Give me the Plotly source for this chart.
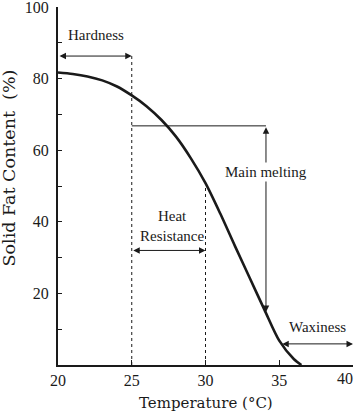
import plotly.graph_objects as go
import numpy as np

# Melting curve (Temperature °C vs Solid Fat Content %)
temps = [20, 21, 22, 23, 24, 25, 26, 27, 28, 29, 30, 31, 32, 33, 34, 35, 36, 36.5]
sfc = [81.7, 81.3, 80.6, 79.5, 77.8, 75.3, 72.3, 68.5, 63.8, 57.8, 50.8, 42.3, 33.2, 24.3, 15.4, 6.8, 1.6, 0]

x_ticks = [20, 25, 30, 35, 40]
y_ticks = [20, 40, 60, 80, 100]

# Region annotations
hardness_range = [20, 25]
hardness_level = 86.3
heat_range = [25, 30]
heat_level = 32
melt_x = 34.1
melt_top = 66.8
melt_bottom = 14.8
melt_start = 25
wax_range = [35.1, 40]
wax_level = 5.9

FONT = "Liberation Serif"
INK = "#1a1a1a"

fig = go.Figure()
fig.add_trace(go.Scatter(x=temps, y=sfc, mode="lines",
                         line=dict(color=INK, width=2.6, shape="spline", smoothing=0.8),
                         hoverinfo="skip", showlegend=False, cliponaxis=False))

shapes = []
# dashed verticals
shapes.append(dict(type="line", xref="x", yref="y", x0=hardness_range[1], x1=hardness_range[1],
                   y0=0, y1=hardness_level, line=dict(color=INK, width=1, dash="dot")))
heat_top = float(np.interp(heat_range[1], temps, sfc))
shapes.append(dict(type="line", xref="x", yref="y", x0=heat_range[1], x1=heat_range[1],
                   y0=0, y1=heat_top, line=dict(color=INK, width=1, dash="dot")))
# main melting horizontal
shapes.append(dict(type="line", xref="x", yref="y", x0=melt_start, x1=melt_x,
                   y0=melt_top, y1=melt_top, line=dict(color=INK, width=1)))

def double_arrow(x0, y0, x1, y1):
    return dict(x=x1, y=y1, ax=x0, ay=y0, xref="x", yref="y", axref="x", ayref="y",
                text="", showarrow=True, arrowhead=2, startarrowhead=2, arrowside="end+start",
                arrowsize=1.3, startarrowsize=1.3, arrowwidth=1, arrowcolor=INK)

def label(x, y, t):
    return dict(x=x, y=y, xref="x", yref="y", text=t, showarrow=False,
                font=dict(family=FONT, size=15, color=INK))

# x tick labels: all but the last drawn by the axis, last one kept inside the page
x_ticktext = [str(v) for v in x_ticks[:-1]] + [""]

annotations = [
    double_arrow(hardness_range[0], hardness_level, hardness_range[1], hardness_level),
    label(22.6, 92.2, "Hardness"),
    double_arrow(heat_range[0], heat_level, heat_range[1], heat_level),
    label(27.7, 38.8, "Heat<br>Resistance"),
    double_arrow(melt_x, melt_top, melt_x, melt_bottom),
    dict(x=melt_x, y=54, xref="x", yref="y", text="Main melting", showarrow=False,
         bgcolor="white", font=dict(family=FONT, size=15, color=INK)),
    double_arrow(wax_range[0], wax_level, wax_range[1], wax_level),
    label(37.6, 10.5, "Waxiness"),
    dict(x=x_ticks[-1], y=0, xref="x", yref="y", text=str(x_ticks[-1]), showarrow=False,
         xanchor="right", yanchor="top", xshift=2, yshift=-3,
         font=dict(family=FONT, size=16, color=INK)),
    # axis titles
    dict(x=0.5, y=-0.105, xref="paper", yref="paper", text="Temperature (°C)", showarrow=False,
         xanchor="center", yanchor="middle", font=dict(family="DejaVu Serif", size=15, color=INK)),
    dict(x=-0.165, y=0.55, xref="paper", yref="paper", text="Solid Fat Content  (%)", showarrow=False,
         textangle=-90, xanchor="center", yanchor="middle",
         font=dict(family="DejaVu Serif", size=17.5, color=INK)),
]

fig.update_layout(
    width=356, height=413,
    margin=dict(l=58, r=3, t=7, b=48, autoexpand=False),
    plot_bgcolor="white", paper_bgcolor="white",
    font=dict(family=FONT, size=15, color=INK),
    shapes=shapes, annotations=annotations,
    showlegend=False,
)
fig.update_xaxes(range=[20, 40], tickvals=x_ticks, ticktext=x_ticktext,
                 ticks="inside", ticklen=5,
                 tickcolor=INK, showline=True, linecolor=INK, linewidth=2,
                 showgrid=False, zeroline=False, automargin=False,
                 ticklabeloverflow="allow",
                 tickfont=dict(family=FONT, size=16))
fig.update_yaxes(range=[0, 100], tickvals=y_ticks, ticks="inside", ticklen=4,
                 minor=dict(tickvals=[10, 30, 50, 70, 90], ticks="inside", ticklen=4, tickcolor=INK),
                 tickcolor=INK, showline=True, linecolor=INK, linewidth=2,
                 showgrid=False, zeroline=False, automargin=False,
                 ticklabeloverflow="allow", ticklabelstandoff=4,
                 tickfont=dict(family=FONT, size=16))

fig.write_html("out.html", config={"displayModeBar": False},
               post_script="document.body.style.margin='0';document.body.style.overflow='hidden';")
